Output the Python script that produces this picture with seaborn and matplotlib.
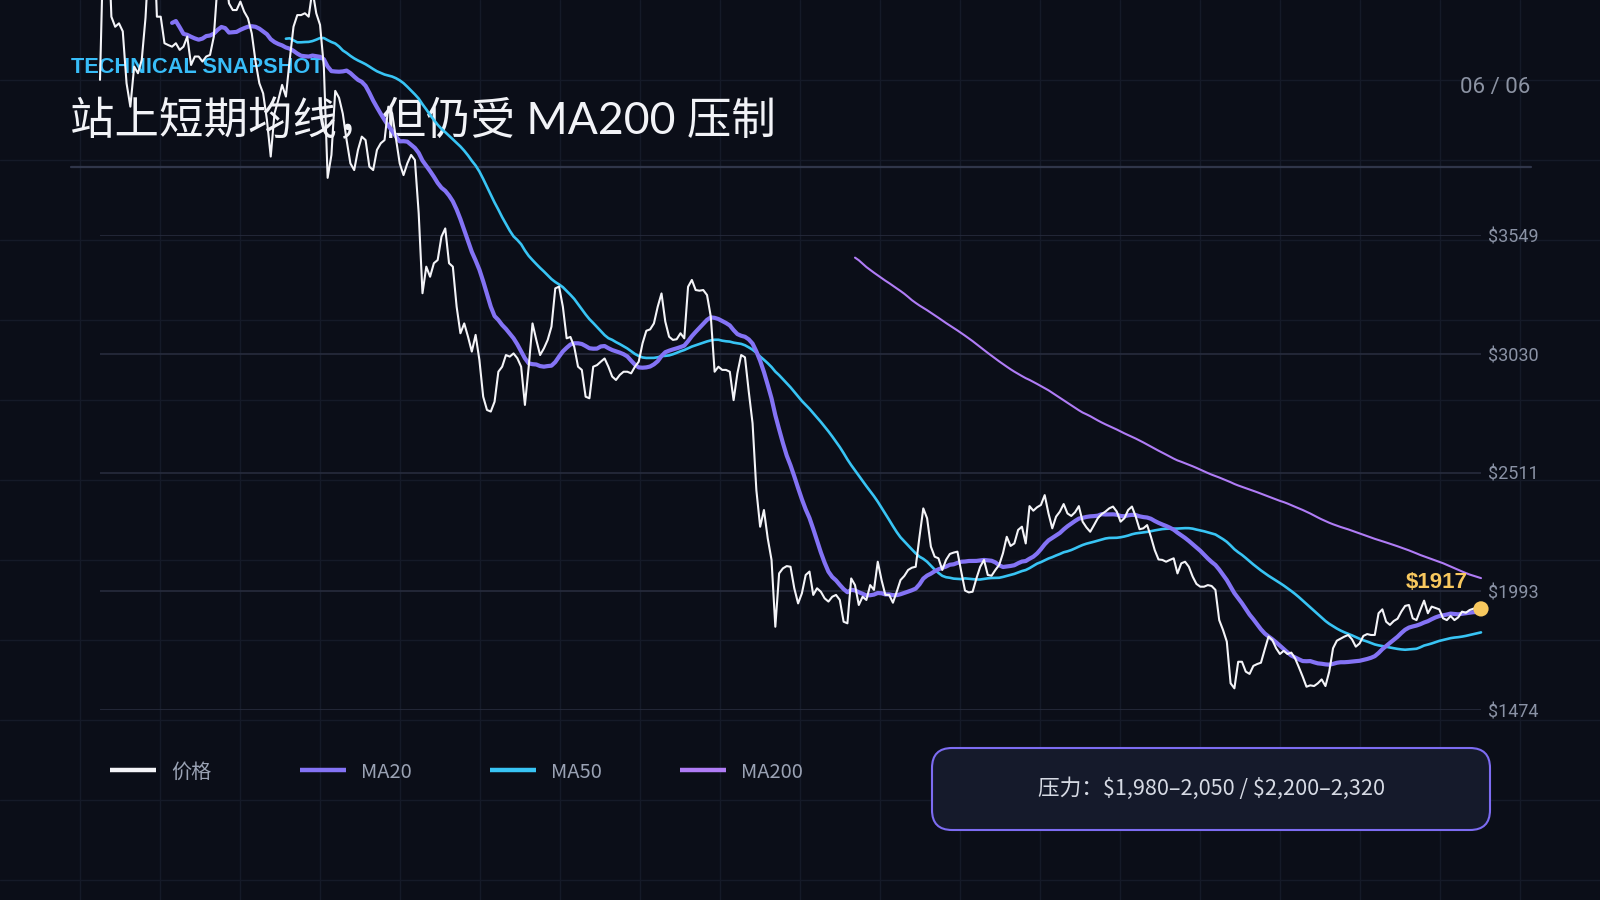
import numpy as np
import pandas as pd
import matplotlib
matplotlib.use("Agg")
import matplotlib.pyplot as plt
from matplotlib.lines import Line2D
from matplotlib.patches import FancyBboxPatch
import matplotlib.transforms as mtransforms
import seaborn as sns

# ---------------- data ----------------
price_close = [
    4228, 4900, 4950, 4504, 4460, 4475, 4440, 4213, 4111, 4286, 4257, 4315, 4500, 4800, 4950, 4504, 4504, 4388, 4380, 4373,
    4388, 4359, 4373, 4417, 4293, 4330, 4330, 4308, 4330, 4337, 4417, 4650, 4750, 4700, 4562, 4533, 4533, 4570, 4526, 4497, 4431,
    4308, 4213, 4169, 4053, 3893, 4082, 4140, 4206, 4155, 4315, 4460, 4511, 4511, 4519, 4504, 4620, 4519, 4468, 4286,
    3800, 3900, 4180, 4150, 4080,
    3965, 3863, 3834, 3922, 3980, 3965, 3849, 3834, 3922, 3951, 3965, 4111, 4082, 3973, 3863, 3812, 3863, 3900, 3878, 3645,
    3296, 3412, 3368, 3427, 3441, 3543, 3579, 3427, 3412, 3237, 3121, 3164, 3106, 3041, 3114, 3004, 2844, 2786, 2779, 2822,
    2953, 2975, 3026, 3019, 3033, 3012, 2975, 2808, 2975, 3164, 3092, 3026, 3055, 3092, 3150, 3317, 3325, 3237, 3099, 3105, 3062,
    2975, 2961, 2844, 2837, 2975, 2982, 2997, 3011, 2975, 2932, 2917, 2939, 2953, 2953, 2946, 2975, 2997, 3077, 3132, 3138,
    3164, 3237, 3295, 3172, 3106, 3092, 3095, 3121, 3099, 3324, 3354, 3310, 3307, 3310, 3288, 3193, 2953, 2975, 2961, 2961,
    2953, 2829, 2946, 3026, 3016, 2866, 2728, 2436, 2276, 2349, 2225, 2131, 1839, 2072, 2094, 2104, 2101, 2007, 1941,
    1985, 2065, 2080, 1978, 2007, 1992, 1963, 1949, 1970, 1978, 1956, 1861, 1854, 2050, 2021, 1934, 1970, 1956, 2021, 2000,
    2123, 2043, 1978, 1978, 1944, 1992, 2043, 2061, 2087, 2097, 2101, 2232, 2356, 2313, 2189, 2145, 2138, 2087, 2131, 2157,
    2163, 2167, 2080, 1997, 1989, 1992, 2050, 2101, 2131, 2065, 2062, 2087, 2109, 2160, 2232, 2192, 2203, 2262, 2276, 2203, 2366, 2346, 2361, 2371,
    2414, 2334, 2269, 2320, 2342, 2375, 2334, 2323, 2339, 2366, 2298, 2273, 2254, 2283, 2313, 2331, 2342, 2356, 2364, 2342,
    2298, 2313, 2349, 2364, 2320, 2265, 2269, 2283, 2232, 2174, 2133, 2131, 2123, 2131, 2138, 2072, 2116, 2123, 2101, 2058,
    2026, 2014, 2014, 2021, 2017, 2000, 1868, 1825, 1774, 1592, 1570, 1686, 1686, 1643, 1633, 1668, 1676, 1682,
    1740, 1796, 1781, 1745, 1720, 1734, 1720, 1726, 1701, 1662, 1621, 1577, 1583, 1580, 1592, 1609, 1580, 1643, 1745, 1778,
    1787, 1796, 1803, 1784, 1752, 1766, 1799, 1807, 1803, 1803, 1898, 1915, 1861, 1847, 1864, 1874, 1905, 1930, 1934, 1876,
    1868, 1912, 1953, 1898, 1927, 1921, 1915, 1876, 1868, 1886, 1868, 1880, 1905, 1900, 1912, 1918, 1919, 1917,
]
ma_windows = [20, 50, 200]
series_names = ["价格", "MA20", "MA50", "MA200"]
y_ticks = [1474, 1993, 2511, 3030, 3549]
y_tick_labels = ["$1474", "$1993", "$2511", "$3030", "$3549"]
kicker = "TECHNICAL SNAPSHOT"
title = "站上短期均线，但仍受 MA200 压制"
page_label = "06 / 06"
note_text = "压力：$1,980–2,050 / $2,200–2,320"

# ---------------- style ----------------
BG = "#0b0e18"
BG_GRID = "#151a28"
AX_GRID = "#272c3d"
SEP = "#30364a"
C_PRICE = "#f4f4f8"
C_MA20 = "#8473f5"
C_MA50 = "#38c4f4"
C_MA200 = "#b07cf6"
C_YELLOW = "#f8c85e"
C_TICK = "#8a92a5"
C_LEG = "#9aa2b4"

sns.set_theme(style="dark")
plt.rcParams["font.family"] = ["Noto Sans CJK SC", "DejaVu Sans"]
plt.rcParams["axes.unicode_minus"] = False

W, H = 1600, 900
fig = plt.figure(figsize=(16, 9), dpi=100)
fig.patch.set_facecolor(BG)

# background square grid
for gx in range(80, W, 80):
    fig.add_artist(Line2D([gx / W, gx / W], [0, 1], transform=fig.transFigure,
                          color=BG_GRID, lw=1.0, zorder=0))
for gy in range(80, H, 80):
    fig.add_artist(Line2D([0, 1], [1 - gy / H, 1 - gy / H], transform=fig.transFigure,
                          color=BG_GRID, lw=1.0, zorder=0))

# header
fig.text(71 / W, 1 - 73 / H, kicker, color="#38bdf8", fontsize=15.7, fontweight="bold",
         family=["Liberation Sans", "DejaVu Sans"], ha="left", va="baseline", zorder=2)
fig.text(70 / W, 1 - 134 / H, title, color="#f2f3f7", fontsize=32,
         family=["Lato", "Noto Sans CJK SC", "DejaVu Sans"], ha="left", va="baseline", zorder=2)
fig.text(1530 / W, 1 - 93 / H, page_label, color="#8c93a3", fontsize=16,
         family=["Roboto", "DejaVu Sans"], ha="right", va="baseline", zorder=2)
fig.add_artist(Line2D([71 / W, 1531 / W], [1 - 166.7 / H] * 2, transform=fig.transFigure,
                      color=SEP, lw=1.6, zorder=1))

# ---------------- chart ----------------
ax = fig.add_axes([100 / W, 1 - 710.3 / H, 1381 / W, 475 / H])
ax.set_facecolor("none")
ax.set_zorder(5)

days = np.arange(len(price_close))
ps = pd.Series(price_close, index=days, dtype=float)
ma = {w: ps.rolling(w).mean() for w in ma_windows}

line_specs = [
    (ma[200], C_MA200, 1.5, 2),
    (ma[50], C_MA50, 1.9, 3),
    (ma[20], C_MA20, 3.0, 4),
]
for s, c, lw, z in line_specs:
    s = s.dropna()
    sns.lineplot(x=s.index.values, y=s.values, ax=ax, color=c, lw=lw, zorder=z,
                 clip_on=False, estimator=None, legend=False)
sns.lineplot(x=days, y=ps.values, ax=ax, color=C_PRICE, lw=1.5, zorder=6,
             clip_on=False, estimator=None, legend=False)
sns.scatterplot(x=[days[-1]], y=[ps.values[-1]], ax=ax, s=120, color=C_YELLOW,
                edgecolor="none", zorder=7, clip_on=False, legend=False)
ax.annotate(f"${ps.values[-1]:.0f}", xy=(days[-1], ps.values[-1]),
            xytext=(-13, 26), textcoords="offset pixels", ha="right", va="center",
            color=C_YELLOW, fontsize=16, fontweight="bold",
            family=["Liberation Sans", "DejaVu Sans"], zorder=8, annotation_clip=False)

ax.set_xlim(0, len(price_close) - 1)
ax.set_ylim(y_ticks[0], y_ticks[-1])
ax.set_yticks(y_ticks)
ax.set_yticklabels(y_tick_labels, family=["Roboto", "DejaVu Sans"], fontsize=13, color=C_TICK)
ax.yaxis.tick_right()
ax.tick_params(axis="y", length=0, pad=5)
ax.set_xticks([])
ax.grid(axis="y", color=AX_GRID, lw=1.2)
ax.grid(axis="x", visible=False)
for sp in ax.spines.values():
    sp.set_visible(False)
ax.set_xlabel("")
ax.set_ylabel("")

# ---------------- legend ----------------
leg_colors = [C_PRICE, C_MA20, C_MA50, C_MA200]
for i, (name, c) in enumerate(zip(series_names, leg_colors)):
    x0 = 110 + i * 190
    fig.add_artist(Line2D([x0 / W, (x0 + 46) / W], [1 - 770 / H] * 2, transform=fig.transFigure,
                          color=c, lw=3.2, solid_capstyle="butt", zorder=3))
    fig.text((x0 + 61) / W, 1 - 778 / H, name, color=C_LEG, fontsize=14.5,
             family=["Noto Sans CJK SC", "DejaVu Sans"], ha="left", va="baseline", zorder=3)

# ---------------- note box ----------------
bx0, by0, bx1, by1 = 932, 748, 1490, 830
box = FancyBboxPatch((bx0, H - by1), bx1 - bx0, by1 - by0,
                     boxstyle="round,pad=0,rounding_size=20",
                     transform=mtransforms.IdentityTransform(),
                     facecolor="#151a2b", edgecolor="#7d6cf2", lw=1.5, zorder=2)
fig.add_artist(box)
fig.text((bx0 + bx1) / 2 / W, 1 - 795 / H, note_text, color="#d6dae4", fontsize=15.6,
         family=["Noto Sans CJK SC", "DejaVu Sans"], ha="center", va="baseline", zorder=3,
         parse_math=False)

fig.savefig("out.png", dpi=100, facecolor=BG)
